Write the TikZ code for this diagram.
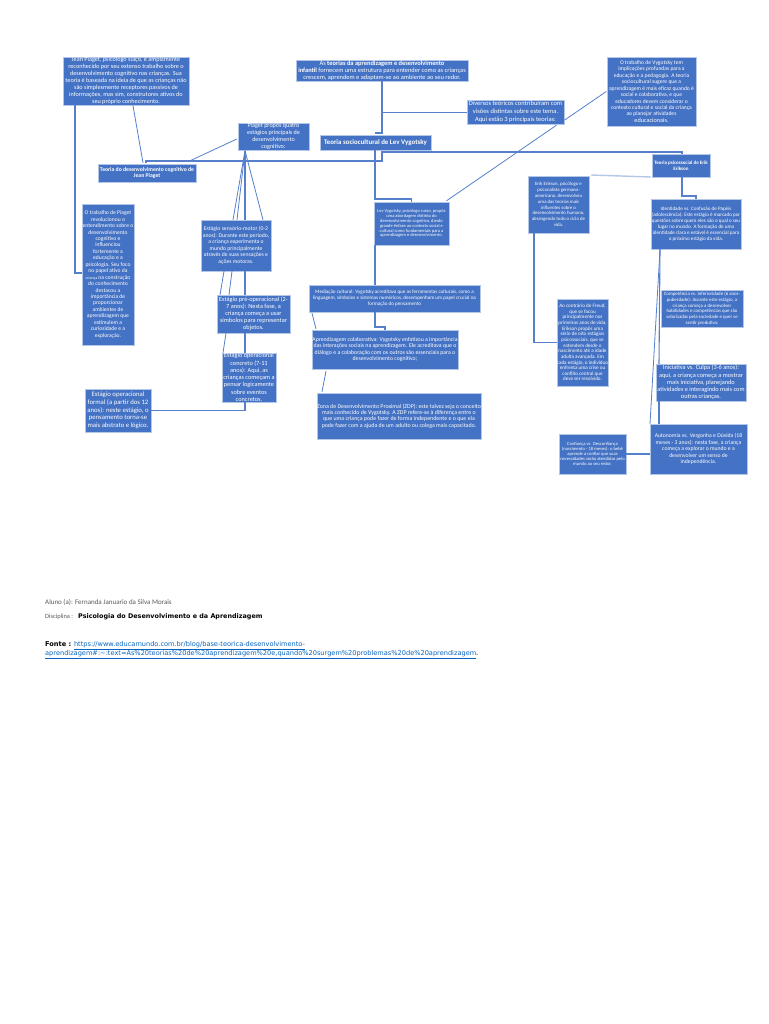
\documentclass[tikz,border=0pt]{standalone}
\usepackage{fontspec}
\setmainfont{Carlito}
\newfontfamily\dejavu{DejaVu Sans}
\usetikzlibrary{calc}
\definecolor{boxblue}{HTML}{4472C4}
\definecolor{edgeblue}{HTML}{B4C7E7}
\definecolor{lineblue}{HTML}{5680CC}
\definecolor{linkblue}{HTML}{0563C1}
\newcommand{\fsz}[2]{\fontsize{#1pt}{#2pt}\selectfont}
\tikzset{
  box/.style={rectangle,fill=boxblue,draw=edgeblue,line width=.4pt,text=white,align=center,inner sep=0pt},
  conn/.style={draw=lineblue,line width=1.1pt},
  thin conn/.style={draw=lineblue,line width=.8pt},
  faint conn/.style={draw=edgeblue,line width=1.4pt},
  plain/.style={anchor=west,inner sep=0pt,align=left},
}
\begin{document}
\begin{tikzpicture}[x=1pt,y=-1pt]
\useasboundingbox[fill=white] (0,0) rectangle (768,1024);

\node[box,minimum width=126pt,minimum height=48pt,font=\fsz{6.2}{7.05}] (jean) at (126,81) {Jean Piaget, psicólogo suíço, é amplamente\\reconhecido por seu extenso trabalho sobre o\\desenvolvimento cognitivo nas crianças. Sua\\teoria é baseada na ideia de que as crianças não\\são simplesmente receptores passivos de\\informações, mas sim, construtores ativos do\\seu próprio conhecimento.};
\node[box,minimum width=71pt,minimum height=27pt,font=\fsz{6.1}{7.2}] (propos) at (273.5,136.5) {Piaget propôs quatro\\estágios principais de\\desenvolvimento\\cognitivo:};
\node[box,minimum width=98pt,minimum height=18pt,font=\bfseries\fsz{5.7}{6.7}] (tdc) at (147,173) {Teoria do desenvolvimento cognitivo de\\Jean Piaget};
\node[box,minimum width=52pt,minimum height=141pt,font=\fsz{5.6}{6.45}] (trabp) at (108,274.5) {O trabalho de Piaget\\revolucionou o\\entendimento sobre o\\desenvolvimento\\cognitivo e\\influenciou\\fortemente a\\educação e a\\psicologia. Seu foco\\no papel ativo da\\{\fontsize{4}{6.45}\selectfont criança} na construção\\do conhecimento\\destacou a\\importância de\\proporcionar\\ambientes de\\aprendizagem que\\estimulem a\\curiosidade e a\\exploração.};
\node[box,minimum width=70pt,minimum height=51pt,font=\fsz{5.7}{6.5}] (sens) at (236,245.5) {Estágio sensório-motor (0-2\\anos): Durante este período,\\a criança experimenta o\\mundo principalmente\\através de suas sensações e\\ações motoras.};
\node[box,minimum width=73pt,minimum height=38pt,font=\fsz{6.3}{7.1}] (pre) at (253.5,314) {Estágio pré-operacional (2-\\7 anos): Nesta fase, a\\criança começa a usar\\símbolos para representar\\objetos.};
\node[box,minimum width=54pt,minimum height=49pt,font=\fsz{6.3}{7.3}] (conc) at (249,377.5) {Estágio operacional\\concreto (7-11\\anos): Aqui, as\\crianças começam a\\pensar logicamente\\sobre eventos\\concretos.};
\node[box,minimum width=66pt,minimum height=43pt,font=\fsz{6.7}{7.7}] (form) at (118,410.5) {Estágio operacional\\formal (a partir dos 12\\anos): neste estágio, o\\pensamento torna-se\\mais abstrato e lógico.};

\node[box,minimum width=172pt,minimum height=21pt,font=\fsz{6.4}{7}] (teorias) at (382,70.5) {As \textbf{teorias da aprendizagem e desenvolvimento}\\\textbf{infantil} fornecem uma estrutura para entender como as crianças\\crescem, aprendem e adaptam-se ao ambiente ao seu redor.};
\node[box,minimum width=97pt,minimum height=24pt,font=\fsz{6.5}{8.1}] (divers) at (515.5,112) {Diversos teóricos contribuíram com\\visões distintas sobre este tema.\\Aqui estão 3 principais teorias:};
\node[box,minimum width=111pt,minimum height=15pt,font=\bfseries\fsz{6.9}{7.5}] (tsc) at (375.5,142.5) {Teoria sociocultural de Lev Vygotsky};
\node[box,minimum width=75pt,minimum height=43pt,font=\fsz{4.5}{4.9}] (lev) at (411.5,223.5) {Lev Vygotsky, psicólogo russo, propôs\\uma abordagem distinta do\\desenvolvimento cognitivo, dando\\grande ênfase ao contexto social e\\cultural como fundamentais para a\\aprendizagem e desenvolvimento.};
\node[box,minimum width=171pt,minimum height=27pt,font=\fsz{5.1}{5.9}] (med) at (394.5,298.5) {Mediação cultural: Vygotsky acreditava que as ferramentas culturais, como a\\linguagem, símbolos e sistemas numéricos, desempenham um papel crucial na\\formação do pensamento};
\node[box,minimum width=146pt,minimum height=39pt,font=\fsz{5.8}{6.5}] (apr) at (385,349.5) {Aprendizagem colaborativa: Vygotsky enfatizou a importância\\das interações sociais na aprendizagem. Ele acreditava que o\\diálogo e a colaboração com os outros são essenciais para o\\desenvolvimento cognitivo;};
\node[box,minimum width=162pt,minimum height=46pt,font=\fsz{5.9}{6.4}] (zona) at (399,416) {Zona de Desenvolvimento Proximal (ZDP): este talvez seja o conceito\\mais conhecido de Vygotsky. A ZDP refere-se à diferença entre o\\que uma criança pode fazer de forma independente e o que ela\\pode fazer com a ajuda de um adulto ou colega mais capacitado.};

\node[box,minimum width=89pt,minimum height=69pt,font=\fsz{5.6}{6.45}] (vyg) at (651.5,91.5) {O trabalho de Vygotsky tem\\implicações profundas para a\\educação e a pedagogia. A teoria\\sociocultural sugere que a\\aprendizagem é mais eficaz quando é\\social e colaborativa, e que\\educadores devem considerar o\\contexto cultural e social da criança\\ao planejar atividades\\{\fontsize{6.2}{6.45}\selectfont educacionais.}};
\node[box,minimum width=61pt,minimum height=57pt,font=\fsz{4.8}{5.8}] (erik) at (558.5,204.5) {Erik Erikson, psicólogo e\\psicanalista germano-\\americano, desenvolveu\\uma das teorias mais\\influentes sobre o\\desenvolvimento humano,\\abrangendo todo o ciclo de\\vida.};
\node[box,minimum width=58pt,minimum height=23pt,font=\bfseries\fsz{5}{6.3}] (tpe) at (681,165.5) {Teoria psicossocial de Erik\\Erikson};
\node[box,minimum width=90pt,minimum height=50pt,font=\fsz{5.1}{5.95}] (ident) at (696,224) {Identidade vs. Confusão de Papéis\\(adolescência): Este estágio é marcado por\\questões sobre quem eles são e qual o seu\\lugar no mundo. A formação de uma\\identidade clara e estável é essencial para\\o próximo estágio da vida.};
\node[box,minimum width=51pt,minimum height=87pt,font=\fsz{5.1}{5.65}] (ao) at (582.5,342.5) {Ao contrário de Freud,\\que se focou\\principalmente nos\\primeiros anos de vida,\\Erikson propôs uma\\série de oito estágios\\psicossociais, que se\\estendem desde o\\nascimento até a idade\\adulta avançada. Em\\cada estágio, o indivíduo\\enfrenta uma crise ou\\conflito central que\\deve ser resolvido.};
\node[box,minimum width=82pt,minimum height=37pt,font=\fsz{4.85}{5.7}] (comp) at (702,308.5) {Competência vs. Inferioridade (6 anos-\\puberdade): durante este estágio, a\\criança começa a desenvolver\\habilidades e competências que são\\valorizadas pela sociedade e quer se\\sentir produtiva;};
\node[box,minimum width=90pt,minimum height=37pt,font=\fsz{6.3}{7.25}] (inic) at (701,382.5) {Iniciativa vs. Culpa (3-6 anos):\\aqui, a criança começa a mostrar\\mais iniciativa, planejando\\atividades e interagindo mais com\\outras crianças.};
\node[box,minimum width=97pt,minimum height=50pt,font=\fsz{5.7}{6.4}] (auton) at (698.5,449) {Autonomia vs. Vergonha e Dúvida (18\\meses - 3 anos): nesta fase, a criança\\começa a explorar o mundo e a\\desenvolver um senso de\\independência.};
\node[box,minimum width=67pt,minimum height=40pt,font=\fsz{4.6}{5}] (conf) at (592.5,454) {Confiança vs. Desconfiança\\(nascimento - 18 meses): o bebê\\aprende a confiar que suas\\necessidades serão atendidas pelo\\mundo ao seu redor.};

\node[plain,text=black!65,font=\fsz{7}{8}] (aluno) at (45,602.5) {Aluno (a): Fernanda Januario da Silva Morais};
\node[plain,text=black!65,font=\fsz{6.4}{8}] (disc) at (45,617) {Disciplina :};
\node[plain,font=\dejavu\bfseries\fsz{6.4}{8}] (discname) at (78,616.5) {Psicologia do Desenvolvimento e da Aprendizagem};
\node[plain,font=\dejavu\fsz{6.6}{7.6},anchor=north west] (fonte) at (45,641) {\textbf{Fonte :} \textcolor{linkblue}{\underline{https://www.educamundo.com.br/blog/base-teorica-desenvolvimento-}}\\\textcolor{linkblue}{\underline{aprendizagem\#:\textasciitilde:text=As\%20teorias\%20de\%20aprendizagem\%20e,quando\%20surgem\%20problemas\%20de\%20aprendizagem}}.};

\coordinate (busL) at (146,161);
\coordinate (busM) at (382,161);
\coordinate (busU) at (382,152);
\coordinate (busR) at (682,152);
\coordinate (hookT) at (382,133);
\coordinate (hookTe) at (375,133);
\coordinate (tscbend) at (375,199);
\coordinate (levbend) at (411.5,199);
\coordinate (medbend) at (375,327);
\coordinate (aprbend) at (385,327);
\coordinate (jeanbend) at (75,273);
\coordinate (formbend) at (245,410.5);
\coordinate (tpebend) at (682,196);
\coordinate (idbend) at (696,196);
\coordinate (erikbend) at (534,342.5);

\draw[conn] ([yshift=-2pt]busL) -- (busL) -- (busM) -- (busU) -- (busR) -- (busR |- tpe.north);
\draw[conn] (teorias.south) -- (hookT) -- (hookTe);
\draw[thin conn] (teorias.south |- divers.west) -- (divers.west);
\draw[conn] ([xshift=-.5pt]tsc.south) -- (tscbend) -- (levbend) -- (lev.north);
\draw[conn] ([xshift=-36.5pt]lev.south) -- ([xshift=-36.5pt]lev.south |- med.north);
\draw[conn] ([xshift=-19.5pt]med.south) -- (medbend) -- (aprbend) -- (apr.north);
\draw[thin conn] ([xshift=41pt,yshift=-1pt]divers.south) -- ([xshift=35pt,yshift=1pt]lev.north);
\draw[thin conn] ([yshift=-8pt,xshift=.5pt]divers.east) -- ([xshift=-.5pt]vyg.west);
\draw[thin conn] ([xshift=7pt,yshift=-.5pt]jean.south) -- ([xshift=-4pt,yshift=1pt]tdc.north);
\draw[conn] ([xshift=-51pt]jean.south) -- (jeanbend) -- ([yshift=1.5pt]trabp.west);
\draw[thin conn] ([xshift=-1pt,yshift=-2.5pt]propos.west) -- ([xshift=43pt,yshift=3pt]tdc.north);
\coordinate (fan) at ($(propos.south)+(-28.5,0.5)$);
\draw[thin conn] (fan) -- ([xshift=-3pt]sens.north);
\draw[thin conn] (fan) -- ([xshift=1pt]sens.north);
\draw[conn] (fan) -- ([xshift=9pt]sens.north);
\draw[thin conn] (fan) -- ([xshift=27pt]sens.north);
\draw[thin conn] ([xshift=-12pt]sens.south) -- ([xshift=-33.5pt]pre.north);
\draw[thin conn] ([xshift=-4pt]sens.south) -- ([xshift=-24.5pt]pre.north);
\draw[conn] ([xshift=9pt]sens.south) -- ([xshift=-8.5pt]pre.north);
\draw[thin conn] ([xshift=-27.5pt]pre.south) -- ([xshift=-26pt]conc.north);
\draw[conn] ([xshift=-8.5pt]pre.south) -- ([xshift=-4pt]conc.north);
\draw[conn] ([xshift=-4pt]conc.south) -- (formbend) -- (form.east);
\draw[faint conn] ([yshift=29.5pt,xshift=2pt]erik.east) -- ([yshift=-11.5pt,xshift=-1pt]tpe.west);
\draw[conn] (tpebend |- tpe.south) -- (tpebend) -- (idbend) -- (ident.north);
\draw[conn] ([xshift=-24.5pt]erik.south) -- (erikbend) -- (ao.west);
\draw[conn] ([xshift=-36pt]ident.south) -- ([xshift=-42pt]inic.north);
\draw[thin conn] ([xshift=-36pt]ident.south) -- ([xshift=-48.5pt]auton.north);
\draw[conn] ([xshift=-42pt]inic.south) -- ([xshift=-39.5pt]auton.north);
\draw[conn] (conf.east) -- (auton.west |- conf.east);
\draw[thin conn] ([xshift=-82.5pt,yshift=-1pt]med.south) -- ([xshift=-69pt,yshift=1pt]apr.north);
\draw[thin conn] ([xshift=-59pt,yshift=-2pt]apr.south) -- ([xshift=-77pt,yshift=1pt]zona.north);
\end{tikzpicture}
\end{document}
